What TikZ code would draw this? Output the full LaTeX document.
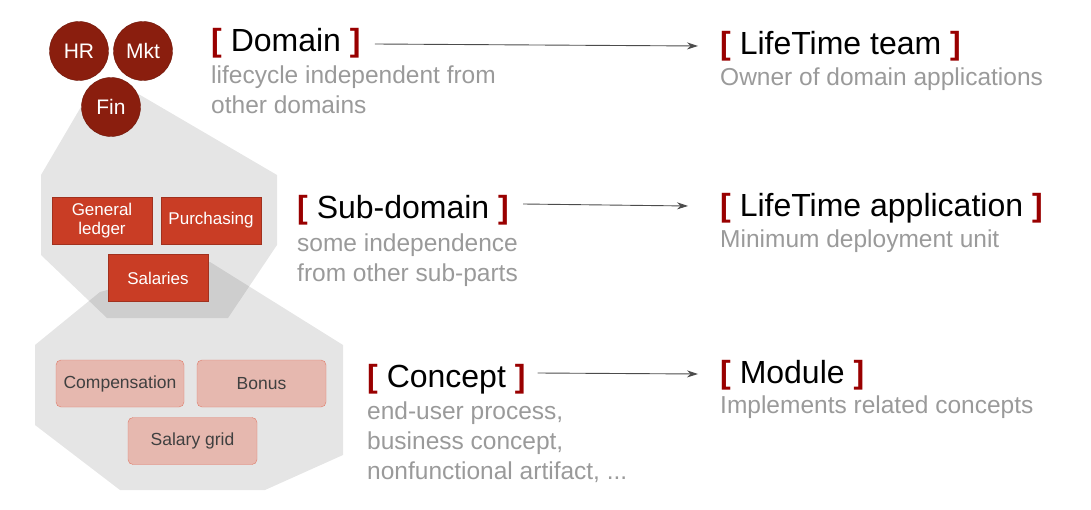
\documentclass[tikz,border=0pt]{standalone}
\usepackage{fontspec}
\setmainfont{Liberation Sans}
\usetikzlibrary{arrows.meta}
\definecolor{bracketred}{HTML}{990000}
\definecolor{circred}{HTML}{8A1E0E}
\definecolor{boxred}{HTML}{C93D25}
\definecolor{pinkbox}{HTML}{E6B8AF}
\definecolor{pinkline}{HTML}{E07A68}
\definecolor{notegray}{HTML}{9A9A9A}
\newcommand{\brk}[1]{{\color{bracketred}\textbf{[}}~#1~{\color{bracketred}\textbf{]}}}

\begin{document}
\begin{tikzpicture}[x=1pt,y=-1pt,
    dom/.style={circle, fill=circred, draw=circred!80!black, minimum size=59pt, inner sep=0pt, text=white, font=\fontsize{21}{21}\selectfont},
    sub/.style={rectangle, fill=boxred, draw=boxred!80!black, minimum width=100pt, minimum height=47pt, inner sep=0pt, text=white, align=center, font=\fontsize{17}{19}\selectfont},
    concept/.style={rectangle, rounded corners=5pt, fill=pinkbox, draw=pinkline, minimum width=128pt, minimum height=47pt, inner sep=0pt, text=black!75, font=\fontsize{17.5}{19}\selectfont},
    title/.style={anchor=base west, inner sep=0pt, font=\fontsize{32}{32}\selectfont},
    note/.style={anchor=north west, inner sep=0pt, align=left, text=notegray, font=\fontsize{24.5}{30}\selectfont},
    link/.style={-{Stealth[length=11pt,width=7pt]}, draw=black!70, line width=0.9pt}]
    \useasboundingbox (0,0) rectangle (1091,510);

    % Hexagons
    \fill[black, fill opacity=0.1] (85,100) -- (135,92) -- (277,175) -- (277,245) -- (228,318) -- (107,318) -- (41,255) -- (41,175) -- cycle;
    \fill[black, fill opacity=0.1] (100,292) -- (210,262) -- (343,345) -- (343,455) -- (265,490) -- (120,490) -- (35,425) -- (35,345) -- cycle;

    % Domains
    \node[dom] (hr) at (79,51) {HR};
    \node[dom] (mkt) at (143,51) {Mkt};
    \node[dom] (fin) at (111,107) {Fin};

    % Sub-domains
    \node[sub] (ledger) at (102,220.5) {General\\ledger};
    \node[sub] (purch) at (211,220.5) {Purchasing};
    \node[sub] (sal) at (158,278) {Salaries};

    % Concepts
    \node[concept] (comp) at (120,383.5) {Compensation};
    \node[concept, minimum width=129pt] (bonus) at (261.5,383.5) {Bonus};
    \node[concept, minimum width=129pt] (grid) at (192.5,441) {Salary grid};

    % Levels
    \node[title] (domain) at (211,52) {\brk{Domain}};
    \node[note] (domainnote) at (211,66) {lifecycle independent from\\other domains};
    \node[title] (subdomain) at (297,219) {\brk{Sub-domain}};
    \node[note] (subnote) at (297,234) {some independence\\from other sub-parts};
    \node[title] (concepttitle) at (367,387) {\brk{Concept}};
    \node[note] (conceptnote) at (367,402) {end-user process,\\business concept,\\nonfunctional artifact, ...};

    % OutSystems side
    \node[title] (team) at (720,55) {\brk{LifeTime team}};
    \node[note] (teamnote) at (720,68) {Owner of domain applications};
    \node[title] (app) at (720,217) {\brk{LifeTime application}};
    \node[note] (appnote) at (720,230) {Minimum deployment unit};
    \node[title] (module) at (720,383) {\brk{Module}};
    \node[note] (modulenote) at (720,396) {Implements related concepts};

    \draw[link] ([xshift=14pt,yshift=8pt]domain.base east) -- ([xshift=-22pt,yshift=9pt]team.base west);
    \draw[link] ([xshift=14pt,yshift=15pt]subdomain.base east) -- ([xshift=-32pt,yshift=11pt]app.base west);
    \draw[link] ([xshift=12pt,yshift=14pt]concepttitle.base east) -- ([xshift=-22pt,yshift=9pt]module.base west);
\end{tikzpicture}
\end{document}
